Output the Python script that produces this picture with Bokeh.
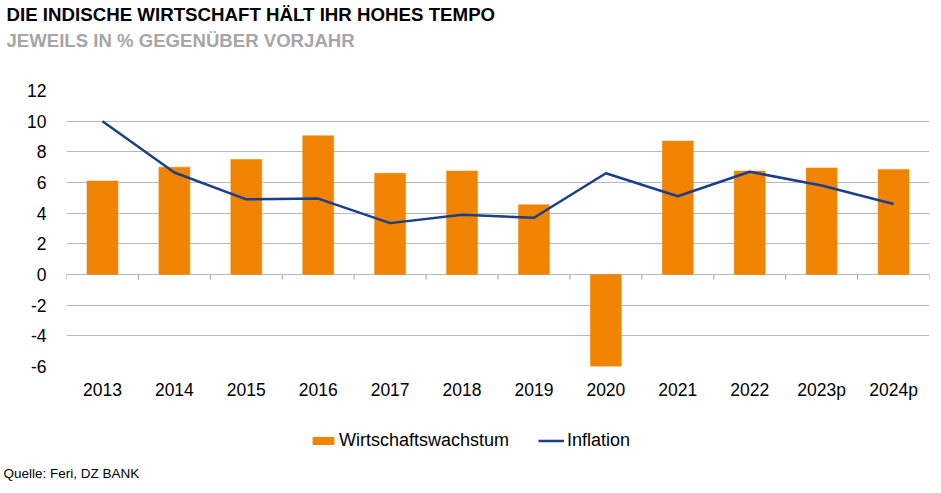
from bokeh.plotting import figure
from bokeh.layouts import column
from bokeh.models import (ColumnDataSource, FixedTicker, Legend, LegendItem, Range1d, Title)
from bokeh.embed import file_html
from bokeh.resources import INLINE

years = ["2013", "2014", "2015", "2016", "2017", "2018", "2019", "2020", "2021", "2022", "2023p", "2024p"]
wachstum = [6.1, 7.0, 7.5, 9.05, 6.6, 6.75, 4.55, -6.0, 8.7, 6.75, 6.95, 6.85]
inflation = [10.0, 6.65, 4.9, 4.95, 3.35, 3.9, 3.7, 6.6, 5.1, 6.7, 5.8, 4.6]
y_ticks = [-6, -4, -2, 0, 2, 4, 6, 8, 10, 12]

ORANGE = "#f08300"
BLUE = "#1b3f8a"
FONT = "Liberation Sans"
W = 933

# ---- chart ----
xpos = [i + 0.5 for i in range(len(years))]
src = ColumnDataSource(dict(x=xpos, w=wachstum, inf=inflation))

p = figure(width=W, height=406, output_backend="svg", toolbar_location=None,
           x_range=Range1d(0, len(years)), y_range=Range1d(-6, 12),
           min_border_left=66, min_border_right=4, min_border_top=0, min_border_bottom=40)
p.frame_width = 863
p.frame_height = 276
p.outline_line_color = None

bars = p.vbar(x="x", top="w", bottom=0, width=0.43, source=src, fill_color=ORANGE, line_color=ORANGE, line_alpha=0.5)
line = p.line(x="x", y="inf", source=src, line_color=BLUE, line_width=2.5)

bx = list(range(len(years) + 1))
p.segment(x0=bx, x1=bx, y0=[0] * len(bx), y1=[-0.33] * len(bx), line_color="#a0a0a0", line_width=1)

p.yaxis.ticker = FixedTicker(ticks=y_ticks)
p.yaxis.major_label_overrides = {t: str(t) for t in y_ticks}
p.yaxis.axis_line_color = None
p.yaxis.major_tick_line_color = None
p.yaxis.minor_tick_line_color = None
p.yaxis.major_label_text_font = FONT
p.yaxis.major_label_text_font_size = "17.5px"
p.yaxis.major_label_text_color = "black"
p.yaxis.major_label_standoff = 14

p.xaxis.ticker = FixedTicker(ticks=xpos)
p.xaxis.major_label_overrides = {x: y for x, y in zip(xpos, years)}
p.xaxis.axis_line_color = None
p.xaxis.major_tick_line_color = None
p.xaxis.minor_tick_line_color = None
p.xaxis.major_label_text_font = FONT
p.xaxis.major_label_text_font_size = "17.5px"
p.xaxis.major_label_text_color = "black"
p.xaxis.major_label_standoff = 7

p.xgrid.grid_line_color = None
p.ygrid.ticker = FixedTicker(ticks=y_ticks)
p.ygrid.grid_line_color = "#b8b8b8"
p.ygrid.grid_line_width = 1.2

# titles: panels stack outward from the frame (spacer, subtitle, title)
spacer = Title(text=" ", text_font=FONT, text_font_size="1px", standoff=35)
sub = Title(text="JEWEILS IN % GEGENÜBER VORJAHR", align="left", offset=-60, standoff=2.5,
            text_font=FONT, text_font_size="18.6px", text_font_style="bold", text_color="#a6a6a6")
main = Title(text="DIE INDISCHE WIRTSCHAFT HÄLT IHR HOHES TEMPO", align="left", offset=-60, standoff=2.5,
             text_font=FONT, text_font_size="18.7px", text_font_style="bold", text_color="black")
p.add_layout(spacer, "above")
p.add_layout(sub, "above")
p.add_layout(main, "above")

# ---- legend + source ----
bot = figure(width=W, height=76, output_backend="svg", toolbar_location=None,
             x_axis_location=None, y_axis_location=None,
             x_range=Range1d(-1000, -999), y_range=Range1d(-1000, -999),
             min_border_left=0, min_border_right=0, min_border_top=0, min_border_bottom=0)
bot.frame_width = W
bot.frame_height = 55
bot.grid.visible = False
bot.outline_line_color = None
# legend proxies drawn from the data, outside this empty view
lb = bot.vbar(x="x", top="w", width=0.43, source=src, fill_color=ORANGE, line_color=ORANGE)
ll = bot.line(x="x", y="inf", source=src, line_color=BLUE, line_width=2.5)
legend = Legend(items=[LegendItem(label="Wirtschaftswachstum", renderers=[lb]),
                       LegendItem(label="Inflation", renderers=[ll])],
                orientation="horizontal", location=(310, 10),
                glyph_width=26, glyph_height=9, label_standoff=3, spacing=29,
                padding=0, margin=0, border_line_color=None, background_fill_alpha=0,
                label_text_font=FONT, label_text_font_size="18px", label_height=18,
                label_text_color="black")
bot.add_layout(legend, "center")
source = Title(text="Quelle: Feri, DZ BANK", align="left", offset=-63, standoff=5,
               text_font=FONT, text_font_size="13.5px", text_font_style="normal", text_color="black")
bot.add_layout(source, "below")

open("out.html", "w").write(file_html(column(p, bot, spacing=0), INLINE))
